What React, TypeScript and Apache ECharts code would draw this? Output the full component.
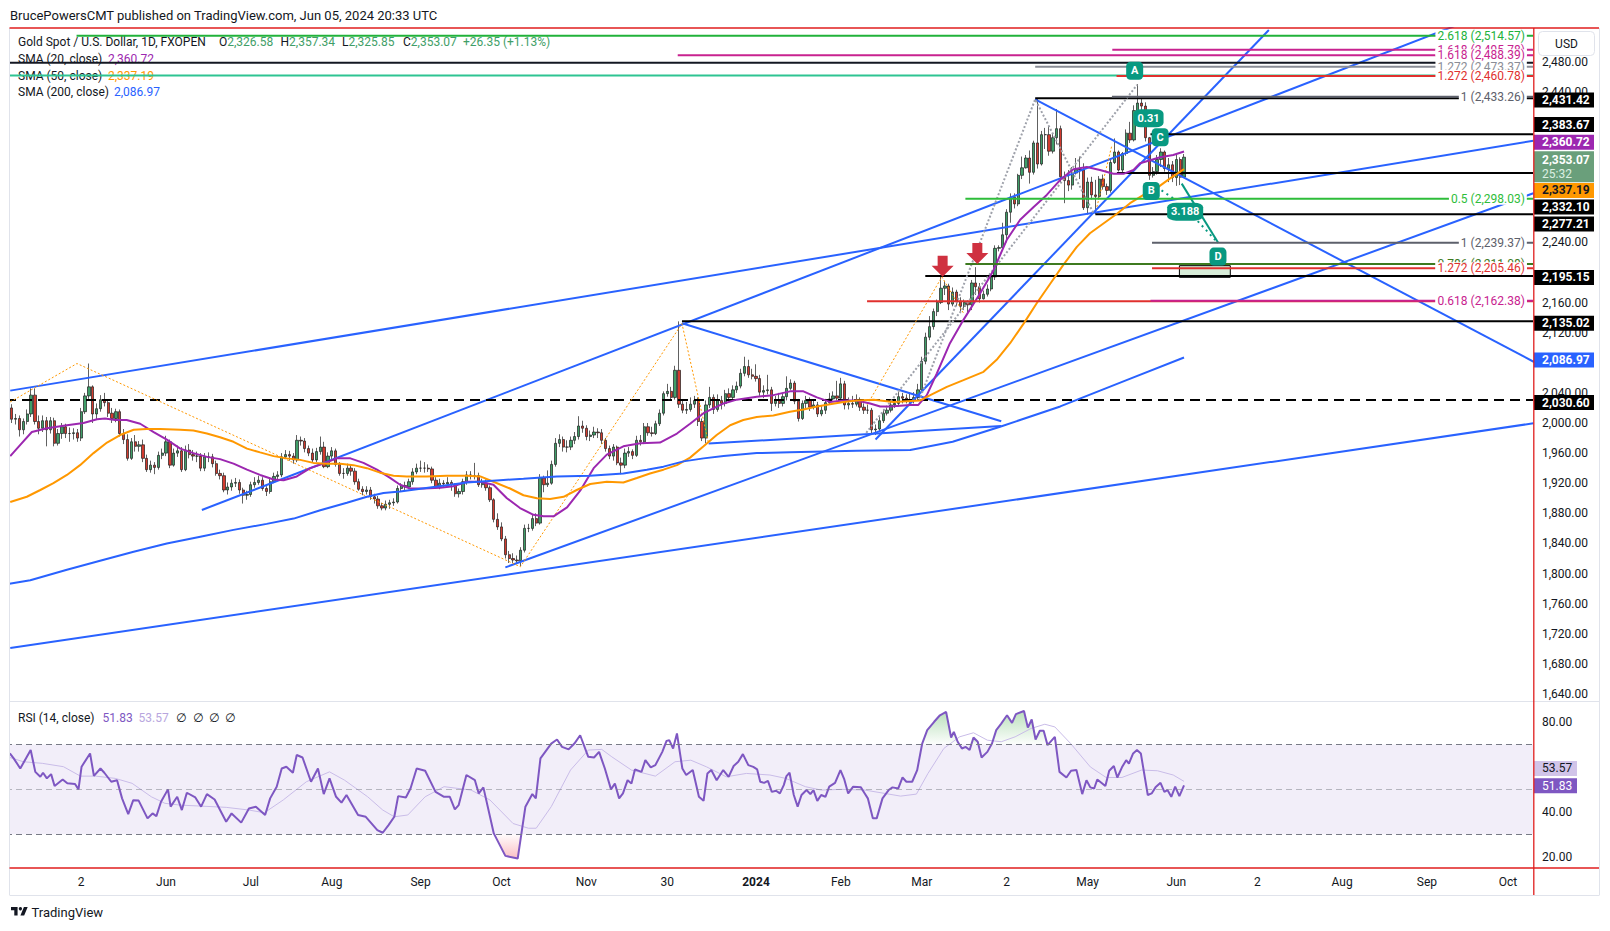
import React, { useEffect, useRef } from "react";
import * as echarts from "echarts";

const FONT = "Roboto, 'Noto Sans', 'DejaVu Sans', sans-serif";
const TEXT = "#131722";
const UP = "#3f9e68";
const DOWN = "#d23a2e";
const BLUE = "#2962ff";

// ---------------- data ----------------
const START_DATE = "2023-04-05";
const SLOT_COUNT = 396; // daily slots incl. empty future space
const FIRST_OPEN = 2021;

const CLOSE = [
  2020, 2005, 2006, 1991, 2002, 2012, 2037, 2002, 1993, 2003,
  1991, 2003, 1973, 1986, 1995, 1986, 1986, 1987, 1980, 2015,
  2036, 2048, 2012, 2019, 2031, 2027, 2013, 2006, 2015, 1986,
  1978, 1953, 1975, 1969, 1971, 1953, 1938, 1944, 1941, 1957,
  1960, 1975, 1944, 1960, 1963, 1938, 1964, 1958, 1956, 1956,
  1940, 1955, 1955, 1946, 1933, 1930, 1911, 1915, 1920, 1921,
  1911, 1904, 1905, 1918, 1921, 1924, 1913, 1909, 1922, 1929,
  1931, 1955, 1958, 1956, 1951, 1977, 1976, 1966, 1960, 1951,
  1962, 1968, 1942, 1956, 1963, 1945, 1933, 1933, 1940, 1936,
  1922, 1912, 1909, 1911, 1902, 1899, 1890, 1887, 1892, 1894,
  1895, 1913, 1917, 1915, 1922, 1935, 1940, 1940, 1940, 1939,
  1924, 1915, 1920, 1919, 1921, 1918, 1906, 1909, 1922, 1931,
  1930, 1930, 1918, 1920, 1914, 1898, 1872, 1862, 1846, 1825,
  1820, 1818, 1817, 1831, 1860, 1860, 1873, 1867, 1927, 1918,
  1920, 1945, 1973, 1978, 1968, 1968, 1977, 1982, 1996, 1993,
  1982, 1984, 1988, 1987, 1977, 1966, 1956, 1968, 1947, 1944,
  1960, 1962, 1957, 1977, 1975, 1995, 1987, 1986, 1999, 2013,
  2039, 2042, 2034, 2070, 2025, 2017, 2018, 2025, 2030, 2002,
  1980, 2024, 2034, 2018, 2030, 2026, 2039, 2034, 2044, 2049,
  2066, 2075, 2064, 2062, 2059, 2041, 2043, 2044, 2026, 2030,
  2026, 2035, 2046, 2053, 2029, 2006, 2026, 2030, 2021, 2024,
  2012, 2017, 2027, 2032, 2036, 2033, 2052, 2024, 2026, 2025,
  2031, 2021, 2017, 2017, 1991, 1992, 2003, 2013, 2017, 2024,
  2026, 2035, 2033, 2031, 2030, 2034, 2044, 2082, 2114, 2128,
  2148, 2160, 2179, 2182, 2158, 2174, 2162, 2155, 2160, 2157,
  2186, 2181, 2165, 2171, 2178, 2194, 2232, 2233, 2250, 2280,
  2300, 2291, 2329, 2339, 2352, 2333, 2372, 2344, 2383, 2383,
  2361, 2379, 2391, 2327, 2322, 2316, 2332, 2337, 2336, 2286,
  2320, 2303, 2301, 2324, 2314, 2309, 2346, 2360, 2336, 2358,
  2385, 2376, 2415, 2425, 2421, 2379, 2329, 2334, 2350, 2360,
  2338, 2343, 2326, 2350, 2326.58, 2353.07,
];

const HIGH = [
  2032, 2025, 2012, 2010, 2006, 2018, 2046, 2046, 2010, 2010,
  2008, 2008, 2007, 1992, 2000, 1999, 1994, 1993, 1992, 2020,
  2040, 2079, 2050, 2026, 2037, 2040, 2030, 2020, 2019, 2018,
  1992, 1985, 1980, 1984, 1976, 1978, 1958, 1950, 1948, 1962,
  1966, 1983, 1978, 1966, 1970, 1968, 1970, 1972, 1964, 1962,
  1960, 1960, 1961, 1959, 1950, 1938, 1934, 1921, 1925, 1927,
  1925, 1914, 1910, 1922, 1928, 1930, 1928, 1916, 1928, 1934,
  1936, 1960, 1964, 1963, 1960, 1984, 1982, 1980, 1970, 1966,
  1967, 1982, 1975, 1961, 1968, 1966, 1948, 1940, 1946, 1945,
  1940, 1926, 1916, 1916, 1915, 1906, 1903, 1894, 1897, 1898,
  1900, 1917, 1920, 1922, 1926, 1940, 1946, 1950, 1948, 1945,
  1942, 1928, 1926, 1924, 1928, 1924, 1920, 1913, 1926, 1936,
  1936, 1947, 1934, 1926, 1925, 1917, 1900, 1880, 1868, 1850,
  1830, 1827, 1824, 1835, 1865, 1866, 1878, 1880, 1932, 1930,
  1937, 1950, 1980, 1985, 1982, 1977, 1982, 1988, 2009, 2003,
  1997, 1990, 1995, 1993, 1992, 1980, 1970, 1972, 1970, 1954,
  1966, 1968, 1965, 1983, 1984, 2000, 2000, 1995, 2003, 2018,
  2042, 2052, 2048, 2076, 2135, 2031, 2028, 2034, 2036, 2034,
  2006, 2030, 2048, 2038, 2038, 2036, 2044, 2046, 2050, 2055,
  2072, 2088, 2084, 2072, 2078, 2064, 2050, 2064, 2048, 2036,
  2040, 2040, 2062, 2058, 2056, 2032, 2030, 2036, 2034, 2030,
  2028, 2023, 2032, 2040, 2042, 2056, 2060, 2056, 2034, 2036,
  2038, 2034, 2026, 2024, 2020, 1998, 2008, 2018, 2022, 2030,
  2032, 2041, 2040, 2038, 2040, 2041, 2052, 2088, 2120, 2142,
  2152, 2164, 2195, 2189, 2185, 2180, 2177, 2167, 2164, 2163,
  2190, 2207, 2186, 2176, 2184, 2198, 2236, 2236, 2266, 2284,
  2305, 2305, 2331, 2354, 2356, 2362, 2375, 2431, 2388, 2392,
  2395, 2385, 2417, 2395, 2334, 2336, 2340, 2352, 2354, 2345,
  2326, 2327, 2323, 2328, 2330, 2318, 2350, 2378, 2362, 2360,
  2390, 2400, 2422, 2450, 2432, 2426, 2380, 2340, 2356, 2365,
  2362, 2352, 2348, 2356, 2353, 2357.34,
];

const LOW = [
  2011, 2000, 1998, 1982, 1985, 1998, 2008, 1998, 1985, 1988,
  1969, 1986, 1969, 1970, 1979, 1980, 1975, 1978, 1975, 1976,
  2012, 2032, 2000, 2005, 2015, 2022, 2008, 2000, 2001, 1982,
  1972, 1950, 1951, 1962, 1962, 1948, 1935, 1934, 1932, 1938,
  1952, 1956, 1940, 1942, 1955, 1935, 1936, 1953, 1950, 1948,
  1936, 1936, 1948, 1941, 1930, 1925, 1908, 1905, 1910, 1915,
  1906, 1893, 1898, 1902, 1914, 1918, 1910, 1903, 1906, 1920,
  1925, 1928, 1952, 1950, 1946, 1948, 1970, 1961, 1956, 1948,
  1948, 1958, 1940, 1940, 1952, 1942, 1930, 1926, 1930, 1930,
  1918, 1910, 1904, 1905, 1898, 1893, 1886, 1884, 1884, 1886,
  1890, 1893, 1909, 1910, 1912, 1918, 1932, 1935, 1934, 1935,
  1920, 1913, 1912, 1914, 1915, 1910, 1902, 1901, 1905, 1918,
  1925, 1925, 1915, 1914, 1910, 1895, 1868, 1858, 1843, 1820,
  1814, 1814, 1813, 1810, 1828, 1855, 1857, 1863, 1865, 1908,
  1915, 1918, 1942, 1968, 1962, 1961, 1964, 1972, 1978, 1987,
  1977, 1976, 1980, 1980, 1972, 1962, 1952, 1950, 1944, 1932,
  1940, 1955, 1952, 1955, 1970, 1972, 1983, 1982, 1984, 1996,
  2010, 2035, 2030, 2031, 2020, 2013, 2012, 2015, 2020, 1996,
  1976, 1973, 2020, 2012, 2015, 2018, 2022, 2030, 2030, 2040,
  2046, 2062, 2060, 2058, 2055, 2036, 2033, 2038, 2016, 2022,
  2020, 2022, 2030, 2044, 2025, 2002, 2004, 2020, 2016, 2018,
  2008, 2009, 2012, 2024, 2030, 2030, 2030, 2018, 2018, 2020,
  2022, 2016, 2012, 2012, 1984, 1984, 1988, 2000, 2010, 2014,
  2020, 2022, 2026, 2026, 2025, 2026, 2030, 2040, 2078, 2110,
  2124, 2142, 2158, 2170, 2150, 2155, 2155, 2146, 2150, 2147,
  2150, 2170, 2160, 2164, 2168, 2175, 2190, 2228, 2230, 2240,
  2266, 2285, 2288, 2324, 2338, 2318, 2330, 2338, 2342, 2364,
  2355, 2358, 2370, 2320, 2292, 2308, 2310, 2330, 2324, 2283,
  2277, 2297, 2278, 2297, 2310, 2303, 2306, 2344, 2334, 2333,
  2355, 2372, 2374, 2408, 2410, 2374, 2323, 2326, 2330, 2340,
  2334, 2320, 2320, 2315, 2316, 2325.85,
];

// moving averages: [bar index, value]
const SMA20 = [
  [0.6, 1956], [3.2, 1971], [6.2, 1988], [10.1, 1993], [15.3, 1997], [19.6, 2000], [23.1, 2005], [25.2, 2006],
  [27.8, 2004], [30.8, 2004], [34.3, 1999], [37.8, 1988], [41.2, 1978], [44.7, 1966], [48.1, 1960], [51.6, 1955],
  [55.0, 1952], [58.5, 1946], [62.0, 1938], [65.4, 1931], [68.9, 1925], [71.5, 1924], [74.9, 1929], [78.4, 1940],
  [81.8, 1946], [85.3, 1953], [88.8, 1953], [92.2, 1947], [95.7, 1938], [99.1, 1927], [101.7, 1918], [104.3, 1913],
  [107.8, 1913], [112.1, 1914], [115.5, 1916], [119.0, 1922], [122.5, 1922], [125.9, 1918], [129.4, 1900],
  [132.8, 1887], [136.3, 1878], [138.9, 1876], [141.5, 1876], [145.0, 1888], [148.4, 1910], [151.9, 1940],
  [155.3, 1958], [159.6, 1969], [164.0, 1973], [169.1, 1974], [173.5, 1986], [176.9, 1999], [180.4, 2013],
  [185.6, 2026], [189.0, 2031], [194.2, 2035], [198.5, 2037], [202.8, 2042], [206.3, 2042], [209.8, 2034],
  [213.2, 2028], [216.7, 2030], [220.1, 2030], [223.6, 2026], [226.2, 2022], [228.8, 2022], [234.0, 2024],
  [236.1, 2024], [238.3, 2037], [240.9, 2066], [244.3, 2106], [247.8, 2137], [252.1, 2172], [255.6, 2203],
  [259.0, 2243], [262.5, 2270], [266.0, 2287], [269.4, 2303], [272.9, 2323], [276.3, 2337], [279.8, 2340],
  [283.2, 2336], [286.7, 2331], [289.3, 2331], [291.9, 2336], [293.6, 2345], [296.2, 2349], [298.8, 2353],
  [302.2, 2356], [305, 2360.72],
];
const SMA50 = [
  [0.6, 1895], [4.9, 1902], [8.4, 1911], [11.8, 1920], [15.3, 1931], [18.7, 1944], [22.2, 1960], [25.7, 1974],
  [29.1, 1984], [32.6, 1991], [36.0, 1992], [39.5, 1992], [44.7, 1991], [48.1, 1990], [51.6, 1986], [55.0, 1981],
  [58.5, 1975], [62.0, 1966], [65.4, 1961], [68.9, 1956], [72.3, 1953], [75.8, 1951], [79.2, 1947], [82.7, 1946],
  [86.2, 1946], [89.6, 1944], [93.1, 1940], [96.5, 1934], [100.0, 1930], [103.4, 1929], [108.6, 1929],
  [113.8, 1930], [119.0, 1930], [122.5, 1929], [125.9, 1922], [130.2, 1913], [133.7, 1904], [137.2, 1900],
  [140.6, 1899], [144.1, 1902], [147.5, 1911], [151.0, 1919], [155.3, 1922], [159.6, 1921], [163.1, 1927],
  [166.5, 1933], [170.0, 1938], [173.5, 1944], [176.9, 1954], [180.4, 1969], [183.8, 1984], [187.3, 1997],
  [190.7, 2004], [194.2, 2008], [198.5, 2010], [202.8, 2015], [206.3, 2018], [209.8, 2022], [213.2, 2025],
  [216.7, 2028], [220.1, 2030], [224.5, 2031], [229.6, 2028], [236.6, 2030], [239.2, 2037], [243.5, 2048],
  [247.8, 2057], [253.0, 2068], [256.4, 2084], [259.9, 2106], [263.4, 2132], [266.8, 2159], [270.3, 2185],
  [273.7, 2210], [277.2, 2234], [280.6, 2252], [284.1, 2265], [287.6, 2278], [291.0, 2292], [294.5, 2303],
  [297.9, 2312], [301.4, 2325], [305, 2337.19],
];
const SMA200 = [
  [0, 1786], [5.8, 1791], [15.3, 1805], [23.9, 1817], [32.6, 1829], [41.2, 1840], [49.9, 1849], [58.5, 1858],
  [67.1, 1866], [74.1, 1873], [81.0, 1884], [87.9, 1894], [93.1, 1902], [97.4, 1907], [101.7, 1909],
  [110.4, 1915], [119.0, 1921], [127.6, 1924], [133.7, 1926], [142.3, 1929], [150.9, 1930], [159.6, 1933],
  [165.7, 1938], [170.0, 1942], [175.2, 1949], [180.4, 1953], [185.6, 1956], [194.2, 1960], [202.8, 1961],
  [211.5, 1962], [220.1, 1963], [234.0, 1964], [245.0, 1975], [257.3, 1995], [272.9, 2022], [290.1, 2057],
  [305, 2086.97],
];

const RSI = [
  [0.5, 66.0], [1.5, 63.8], [3.2, 59.3], [5.9, 67.5], [7.1, 57.8], [8.4, 55.6], [9.1, 57.4], [10.1, 54.9],
  [11.2, 56.8], [12.1, 51.5], [14.2, 54.4], [15.4, 52.7], [17.4, 52.4], [18.3, 50.0], [19.1, 60.1], [21.3, 66.0],
  [22.3, 56.0], [24.0, 59.3], [25.0, 57.4], [26.8, 53.4], [28.3, 54.1], [29.6, 46.0], [31.2, 39.0], [32.5, 45.2],
  [33.9, 45.0], [36.2, 37.1], [37.5, 39.3], [38.5, 38.1], [39.7, 44.5], [41.5, 50.0], [42.2, 42.3], [43.9, 46.7],
  [45.1, 40.8], [46.4, 48.5], [48.6, 46.4], [50.1, 42.3], [51.6, 47.9], [53.6, 45.5], [56.6, 35.6], [58.0, 39.3],
  [60.5, 35.2], [62.5, 41.5], [64.3, 42.3], [66.7, 38.6], [68.0, 46.0], [69.7, 51.2], [71.0, 59.3], [72.2, 60.1],
  [73.9, 57.4], [74.9, 65.3], [76.4, 64.2], [78.6, 53.4], [80.4, 59.3], [81.9, 47.9], [83.4, 54.9], [85.1, 46.7],
  [86.5, 44.1], [87.8, 47.5], [90.8, 38.6], [92.8, 37.8], [95.8, 31.9], [97.2, 30.7], [98.7, 34.1], [100.2, 37.8],
  [101.2, 47.0], [103.2, 46.4], [104.4, 50.4], [106.0, 59.3], [108.2, 58.3], [110.9, 48.9], [113.1, 46.7],
  [114.6, 46.7], [115.9, 41.1], [116.9, 43.0], [118.9, 56.4], [121.1, 54.1], [122.1, 48.2], [123.3, 50.9],
  [126.0, 30.4], [129.0, 20.4], [132.2, 19.2], [134.2, 42.3], [136.0, 47.9], [136.9, 46.0], [138.1, 63.8],
  [140.9, 70.4], [142.4, 72.2], [143.7, 68.9], [145.4, 67.8], [146.9, 70.4], [148.4, 74.1], [150.5, 64.5],
  [152.0, 64.2], [153.3, 66.7], [154.8, 59.3], [156.4, 50.0], [157.4, 52.6], [158.5, 46.0], [159.5, 48.2],
  [160.7, 54.1], [161.7, 52.6], [162.6, 58.9], [164.3, 57.8], [165.3, 63.0], [166.7, 59.8], [167.9, 60.8],
  [169.7, 66.7], [170.8, 71.6], [171.5, 71.9], [172.5, 68.2], [173.5, 74.9], [174.9, 59.3], [175.9, 56.4],
  [177.6, 58.6], [179.2, 46.7], [180.4, 44.9], [181.4, 57.1], [182.4, 58.6], [183.8, 54.1], [185.5, 58.6],
  [186.9, 55.6], [188.2, 60.4], [189.4, 62.3], [190.6, 65.7], [192.0, 60.8], [193.3, 60.0], [194.3, 58.9],
  [195.1, 53.4], [196.1, 52.9], [197.1, 53.8], [198.1, 48.9], [199.2, 49.4], [200.2, 48.2], [201.2, 51.9],
  [201.9, 55.9], [202.7, 57.4], [203.8, 47.5], [204.8, 42.3], [205.8, 47.5], [207.1, 49.7], [208.1, 47.9],
  [208.9, 49.7], [209.9, 44.9], [210.9, 47.5], [212.0, 46.7], [213.0, 51.2], [214.5, 52.9], [215.9, 58.6],
  [216.9, 54.4], [217.9, 48.2], [219.2, 51.2], [221.2, 50.9], [222.2, 48.2], [223.0, 46.0], [224.3, 37.1],
  [225.3, 37.1], [226.8, 46.0], [228.4, 49.7], [229.4, 50.9], [230.9, 50.4], [232.0, 55.3], [233.0, 53.4],
  [234.5, 53.4], [235.8, 58.6], [237.1, 70.4], [238.4, 76.4], [240.2, 80.1], [241.7, 83.0], [243.3, 84.5],
  [244.6, 73.1], [245.3, 75.6], [246.3, 71.2], [247.4, 68.2], [248.4, 68.9], [249.4, 67.5], [250.4, 73.1],
  [251.5, 71.2], [252.5, 64.2], [254.0, 66.7], [255.2, 70.4], [256.3, 76.4], [257.6, 79.3], [259.1, 83.0],
  [260.4, 79.6], [261.4, 83.5], [263.5, 84.9], [264.5, 77.5], [265.5, 81.1], [266.5, 72.2], [267.6, 76.1],
  [268.6, 76.1], [269.6, 69.7], [271.5, 73.4], [272.7, 57.8], [274.5, 55.3], [275.7, 58.3], [277.1, 58.6],
  [278.6, 47.9], [279.7, 54.1], [280.7, 50.9], [281.7, 50.4], [282.5, 54.4], [283.8, 52.6], [284.6, 51.5],
  [285.6, 58.3], [286.8, 60.4], [287.7, 55.3], [288.9, 59.8], [290.0, 63.0], [290.7, 61.5], [291.8, 66.0],
  [292.8, 67.5], [293.8, 66.0], [295.6, 47.5], [296.6, 48.2], [297.6, 50.9], [298.9, 52.9], [299.9, 48.9],
  [300.7, 49.7], [301.7, 46.7], [302.7, 51.2], [303.8, 47.0], [305, 51.83],
];
const RSI_MA = [
  [0.5, 64.2], [4.0, 62.3], [8.9, 61.6], [14.4, 60.1], [18.8, 55.9], [22.8, 55.9], [27.8, 54.9], [32.2, 52.7],
  [37.2, 46.7], [40.7, 43.8], [44.6, 43.0], [49.6, 42.6], [56.6, 42.0], [62.5, 40.8], [66.5, 39.6], [71.4, 45.3],
  [77.4, 53.4], [83.4, 57.8], [87.3, 54.1], [93.3, 46.7], [97.2, 40.8], [100.2, 37.8], [103.7, 38.6],
  [108.2, 46.7], [113.1, 51.2], [120.1, 49.7], [125.0, 45.3], [131.0, 34.8], [135.0, 32.7], [137.0, 32.7],
  [140.9, 42.3], [145.9, 58.6], [150.5, 67.5], [154.0, 67.8], [156.6, 64.5], [161.7, 58.6], [167.9, 55.9],
  [173.0, 62.3], [177.1, 63.0], [181.2, 60.0], [186.3, 55.6], [191.5, 57.1], [197.6, 56.4], [201.7, 54.9],
  [206.8, 51.2], [210.9, 49.7], [216.1, 50.0], [222.2, 49.7], [227.4, 48.2], [231.5, 47.0], [235.6, 47.9],
  [238.6, 57.1], [242.7, 68.2], [246.8, 73.4], [250.4, 75.2], [254.0, 71.9], [257.6, 71.2], [261.2, 73.4],
  [265.3, 77.1], [268.9, 79.0], [271.5, 77.8], [275.6, 70.4], [280.7, 60.0], [284.8, 55.3], [288.9, 55.3],
  [294.0, 58.6], [298.1, 58.3], [302.2, 56.4], [305, 53.57],
];
// stretches of the RSI line beyond the 70 / 30 bands (filled in the reference)
const RSI_OVERBOUGHT = [
  [[237.0, 70], [237.1, 70.4], [238.4, 76.4], [240.2, 80.1], [241.7, 83.0], [243.3, 84.5], [244.6, 73.1], [245.3, 75.6], [246.3, 71.2], [246.7, 70]],
  [[250.0, 70], [250.4, 73.1], [251.5, 71.2], [251.8, 70]],
  [[255.1, 70], [255.2, 70.4], [256.3, 76.4], [257.6, 79.3], [259.1, 83.0], [260.4, 79.6], [261.4, 83.5], [263.5, 84.9], [264.5, 77.5], [265.5, 81.1], [266.5, 72.2], [267.6, 76.1], [268.6, 76.1], [269.5, 70]],
];
const RSI_OVERSOLD = [[126.05, 30], [129.0, 20.4], [132.2, 19.2], [133.1, 30]];

// axis ticks (price ticks hidden under the tag boxes in the reference are left out)
const X_TICKS = [
  ["2023-05-02", "2"], ["2023-06-01", "Jun"], ["2023-07-03", "Jul"], ["2023-08-01", "Aug"],
  ["2023-09-01", "Sep"], ["2023-10-02", "Oct"], ["2023-11-01", "Nov"], ["2023-11-30", "30"],
  ["2024-01-02", "2024"], ["2024-02-01", "Feb"], ["2024-03-01", "Mar"], ["2024-04-02", "2"],
  ["2024-05-01", "May"], ["2024-06-03", "Jun"], ["2024-07-02", "2"], ["2024-08-01", "Aug"],
  ["2024-09-02", "Sep"], ["2024-10-01", "Oct"],
];
const PRICE_TICKS = [1640, 1680, 1720, 1760, 1800, 1840, 1880, 1920, 1960, 2000, 2040, 2120, 2160, 2240, 2440, 2480];
const RSI_TICKS = [20, 40, 80];

// drawings: [x1 bar, price1, x2 bar, price2]
const TRENDLINES = [
  [0.6, 1701.1, 395.6, 1999.6],
  [0.6, 2043.0, 395.6, 2375.0],
  [50.3, 1884.4, 375.8, 2528.6],
  [174.8, 2132.4, 257.6, 2002.4],
  [129.0, 1808.2, 395.6, 2305.2],
  [225.0, 1978.0, 327.0, 2522.0],
  [266.4, 2430.0, 395.8, 2081.0],
  [181.7, 1972.6, 257.6, 1995.9],
];
// black horizontal levels: [price, start bar]
const LEVELS = [
  [2431.42, 266.4], [2383.67, 296.3], [2332.10, 287.6], [2277.21, 282.0], [2195.15, 237.9], [2135.02, 174.8],
];
const DASHED_LEVEL = 2030.6;
const FULL_LINES = [[2478.6, "#131722"], [2461.5, "#2ec492"]];
const FIBS = [
  { p: 2514.57, from: 17.8, label: "2.618 (2,514.57)", color: "#21b23a" },
  { p: 2495.78, from: 286.4, label: "1.618 (2,495.78)", color: "#c8228f" },
  { p: 2488.39, from: 173.7, label: "1.618 (2,488.39)", color: "#c8228f" },
  { p: 2473.37, from: 266.4, label: "1.272 (2,473.37)", color: "#8a8d96" },
  { p: 2460.78, from: 287.5, label: "1.272 (2,460.78)", color: "#e0302e" },
  { p: 2433.26, from: 286.3, label: "1 (2,433.26)", color: "#5d606b" },
  { p: 2298.03, from: 248.3, label: "0.5 (2,298.03)", color: "#2ebd3a" },
  { p: 2239.37, from: 296.7, label: "1 (2,239.37)", color: "#5d606b" },
  { p: 2211.08, from: 248.3, label: "0.786 (2,211.08)", color: "#3d7a1f" },
  { p: 2205.46, from: 296.7, label: "1.272 (2,205.46)", color: "#e0302e" },
  { p: 2161.6, from: 222.8, label: "0.618 (2,162.38)", color: "#e0302e" },
  { p: 2162.38, from: 296.3, label: "0.618 (2,162.38)", color: "#c8228f" },
];
const ORANGE_PATHS = [
  [[0.6, 2028], [17.9, 2079], [132.9, 1809], [174.8, 2132], [181.7, 1973]],
  [[222.8, 2024], [242.2, 2194], [247.8, 2146]],
  [[282.4, 2287], [286.3, 2369]],
];
const GREY_PATHS = [
  [[236.3, 2030], [266.4, 2430], [281.5, 2279]],
  [[222.6, 1987], [292.8, 2449]],
];
const TEAL_SOLID = [[304.4, 2318], [313.9, 2239]];
const TEAL_DOTTED = [
  [[296.6, 2318], [302.3, 2298]],
  [[307.5, 2274], [313.1, 2243]],
];
const PATTERN_TAGS = [
  { text: "A", x: 292.2, p: 2467.9, w: 17 },
  { text: "B", x: 296.5, p: 2308.2, w: 17 },
  { text: "C", x: 298.8, p: 2379.5, w: 17 },
  { text: "D", x: 313.8, p: 2221.0, w: 17 },
  { text: "3.188", x: 305.3, p: 2280.7, w: 36 },
  { text: "0.31", x: 295.8, p: 2404.8, w: 30 },
];
const ARROWS = [[242.4, 2194.3], [251.4, 2211.2]];
const PRZ = [303.8, 2209, 317.0, 2193.5];

const LEGEND_OHLC = [["O", "2,326.58"], ["H", "2,357.34"], ["L", "2,325.85"], ["C", "2,353.07"]];
const LEGEND_CHANGE = "+26.35 (+1.13%)";
const SMA_LEGEND = [["SMA (20, close)", "2,360.72", "#9c27b0"], ["SMA (50, close)", "2,337.19", "#ff9800"], ["SMA (200, close)", "2,086.97", BLUE]];

// ---------------- helpers ----------------
const DATES = (() => {
  const out = [];
  const d = new Date(START_DATE + "T00:00:00Z");
  while (out.length < SLOT_COUNT) {
    const wd = d.getUTCDay();
    if (wd !== 0 && wd !== 6) out.push(d.toISOString().slice(0, 10));
    d.setUTCDate(d.getUTCDate() + 1);
  }
  return out;
})();
const TICK_MAP = new Map(X_TICKS);
const TICK_IDX = new Set(X_TICKS.map((t) => DATES.indexOf(t[0])));
const CANDLES = CLOSE.map((c, i) => [i === 0 ? FIRST_OPEN : CLOSE[i - 1], c, LOW[i], HIGH[i]]);

const RIGHT = SLOT_COUNT - 0.5;
const LABEL_X = SLOT_COUNT - 2.1;
const fmt2 = (v) => Number(v).toLocaleString("en-US", { minimumFractionDigits: 2, maximumFractionDigits: 2 });

const seg = (data, color, width, type = "solid", z = 3, xi = 1, yi = 0) => ({
  type: "line", xAxisIndex: xi, yAxisIndex: yi, data, symbol: "none", silent: true,
  animation: false, z, lineStyle: { color, width, type },
});

// right-hand axis tags: text, display position (price), bg, fg
const AXIS_TAGS = [
  { text: "2,431.42", at: 2429.1, bg: "#000", fg: "#fff" },
  { text: "2,383.67", at: 2396.5, bg: "#000", fg: "#fff" },
  { text: "2,360.72", at: 2372.9, bg: "#9c27b0", fg: "#fff" },
  { text: "2,337.19", at: 2308.9, bg: "#ff9800", fg: "#131722" },
  { text: "2,332.10", at: 2286.9, bg: "#000", fg: "#fff" },
  { text: "2,277.21", at: 2264.3, bg: "#000", fg: "#fff" },
  { text: "2,195.15", at: 2193.3, bg: "#000", fg: "#fff" },
  { text: "2,135.02", at: 2132.4, bg: "#000", fg: "#fff" },
  { text: "2,086.97", at: 2083.7, bg: BLUE, fg: "#fff" },
  { text: "2,030.60", at: 2027.2, bg: "#000", fg: "#fff" },
];

function buildOption() {
  const hidden = { color: "rgba(0,0,0,0)", width: 0 };
  const tagLabel = (t) => ({
    show: true, position: "end", distance: 1, formatter: t.text, backgroundColor: t.bg, color: t.fg,
    fontWeight: "bold", fontSize: 12, fontFamily: FONT, padding: [2, 0, 1, 8], width: 52, lineHeight: 12,
  });
  const series = [];

  series.push({
    type: "candlestick", xAxisIndex: 0, yAxisIndex: 0, data: CANDLES, barWidth: "72%", z: 2,
    itemStyle: { color: UP, color0: DOWN, borderColor: "#1c1c1c", borderColor0: "#1c1c1c", borderWidth: 0.7 },
    markLine: {
      symbol: ["none", "none"], silent: true, animation: false,
      data: [
        ...AXIS_TAGS.map((t) => ({ yAxis: t.at, lineStyle: hidden, label: tagLabel(t) })),
        {
          yAxis: 2340.5, lineStyle: hidden,
          label: {
            show: true, position: "end", distance: 1, formatter: "{a|2,353.07}\n{b|25:32}", backgroundColor: "#6a9f7b",
            padding: [1, 0, 1, 8], width: 52, fontFamily: FONT,
            rich: { a: { color: "#fff", fontWeight: "bold", fontSize: 12, lineHeight: 15, fontFamily: FONT }, b: { color: "#dcefe2", fontSize: 12, lineHeight: 14, fontFamily: FONT } },
          },
        },
      ],
    },
  });

  TRENDLINES.forEach((t) => series.push(seg([[t[0], t[1]], [t[2], t[3]]], BLUE, 2)));
  LEVELS.forEach((l) => series.push(seg([[l[1], l[0]], [RIGHT, l[0]]], "#000", 2)));
  series.push(seg([[-0.5, DASHED_LEVEL], [RIGHT, DASHED_LEVEL]], "#000", 2, [10, 6]));
  FULL_LINES.forEach((l) => series.push(seg([[-0.5, l[0]], [RIGHT, l[0]]], l[1], 2)));
  ORANGE_PATHS.forEach((p) => series.push(seg(p, "#ff9800", 1, [2, 2])));
  GREY_PATHS.forEach((p) => series.push(seg(p, "#9ea1aa", 2, [2, 2])));
  series.push(seg(TEAL_SOLID, "#089981", 2));
  TEAL_DOTTED.forEach((p) => series.push(seg(p, "#089981", 2, [2, 4])));

  FIBS.forEach((f) => {
    const s = seg([[f.from, f.p], [RIGHT, f.p]], f.color, 2, "solid", 4);
    s.markPoint = {
      silent: true, animation: false, symbol: "circle", symbolSize: 0,
      data: [{
        coord: [LABEL_X, f.p],
        label: { show: true, position: "left", distance: 0, formatter: f.label, color: f.color, fontSize: 12, fontFamily: FONT, backgroundColor: "#fff", padding: [0, 2] },
      }],
    };
    series.push(s);
  });

  series.push(seg(SMA20, "#9c27b0", 2, "solid", 3));
  series.push(seg(SMA50, "#ff9800", 2, "solid", 3));
  const s200 = seg(SMA200, BLUE, 2, "solid", 3);
  s200.markArea = {
    silent: true, animation: false,
    data: [[{ coord: [PRZ[0], PRZ[1]], itemStyle: { color: "rgba(190,225,192,0.6)", borderColor: "#000", borderWidth: 1 } }, { coord: [PRZ[2], PRZ[3]] }]],
  };
  s200.markPoint = {
    silent: true, animation: false,
    data: [
      ...PATTERN_TAGS.map((t) => ({
        coord: [t.x, t.p], symbol: "roundRect", symbolSize: [t.w, 18], itemStyle: { color: "#089981" },
        label: { show: true, position: "inside", formatter: t.text, color: "#fff", fontSize: 11, fontWeight: "bold", fontFamily: FONT },
      })),
      ...ARROWS.map((a) => ({
        coord: a, symbol: "path://M6,0H16V10H22L11,21L0,10H6Z", symbolSize: [22, 21], symbolOffset: [0, -10.5],
        symbolKeepAspect: false, itemStyle: { color: "#cf3140" }, label: { show: false },
      })),
    ],
  };
  series.push(s200);

  // ---- RSI pane ----
  RSI_OVERBOUGHT.forEach((p) => series.push({
    type: "line", xAxisIndex: 3, yAxisIndex: 1, data: p, symbol: "none", silent: true, z: 2,
    lineStyle: { width: 0 },
    areaStyle: {
      origin: 70,
      color: new echarts.graphic.LinearGradient(0, 0, 0, 1, [
        { offset: 0, color: "rgba(76,175,80,0.55)" }, { offset: 1, color: "rgba(76,175,80,0.02)" },
      ]),
    },
  }));
  series.push({
    type: "line", xAxisIndex: 3, yAxisIndex: 1, data: RSI_OVERSOLD, symbol: "none", silent: true, z: 2,
    lineStyle: { width: 0 },
    areaStyle: {
      origin: 30,
      color: new echarts.graphic.LinearGradient(0, 0, 0, 1, [
        { offset: 0, color: "rgba(242,54,69,0.02)" }, { offset: 1, color: "rgba(242,54,69,0.45)" },
      ]),
    },
  });
  series.push(seg(RSI_MA, "#c9bce8", 1, "solid", 3, 3, 1));
  const rsi = seg(RSI, "#7e57c2", 2, "solid", 4, 3, 1);
  rsi.markArea = { silent: true, animation: false, itemStyle: { color: "rgba(126,87,194,0.1)" }, data: [[{ yAxis: 30 }, { yAxis: 70 }]] };
  const rsiTag = (text, at, bg, fg) => ({
    yAxis: at, lineStyle: hidden,
    label: { show: true, position: "end", distance: 1, formatter: text, backgroundColor: bg, color: fg, fontSize: 12, fontFamily: FONT, padding: [2, 0, 1, 8], width: 35, lineHeight: 12 },
  });
  rsi.markLine = {
    symbol: ["none", "none"], silent: true, animation: false, label: { show: false },
    data: [
      { yAxis: 70, lineStyle: { color: "#787b86", type: [6, 4], width: 1 } },
      { yAxis: 30, lineStyle: { color: "#787b86", type: [6, 4], width: 1 } },
      { yAxis: 50, lineStyle: { color: "rgba(120,123,134,0.5)", type: [6, 4], width: 1 } },
      rsiTag("53.57", 59.3, "#d1c4e9", TEXT),
      rsiTag("51.83", 51.6, "#7e57c2", "#fff"),
    ],
  };
  series.push(rsi);

  // ---- graphics ----
  const txt = (x, y, text, fill, size = 12, extra = {}) => ({
    type: "text", x, y, z: 1, silent: true,
    style: { text, fill, font: `${size}px ${FONT}`, verticalAlign: "middle", textVerticalAlign: "middle", ...extra },
  });
  const line = (x1, y1, x2, y2, stroke, w = 1, z = 30) => ({ type: "line", z, silent: true, shape: { x1, y1, x2, y2 }, style: { stroke, lineWidth: w } });
  const ohlcX = [219, 280.5, 342, 403];
  const els = [
    { type: "rect", z: 29, silent: true, shape: { x: 0, y: 28, width: 9.5, height: 868 }, style: { fill: "#fff" } },
    txt(10, 15, "BrucePowersCMT published on TradingView.com, Jun 05, 2024 20:33 UTC", TEXT, 13),
    txt(18, 42, "Gold Spot / U.S. Dollar, 1D, FXOPEN", TEXT),
    ...LEGEND_OHLC.map((o, i) => ({
      type: "text", x: ohlcX[i], y: 42, z: 1, silent: true,
      style: { text: `{k|${o[0]}}{v|${o[1]}}`, font: `12px ${FONT}`, verticalAlign: "middle", textVerticalAlign: "middle",
        rich: { k: { fill: TEXT, color: TEXT, fontSize: 12, fontFamily: FONT }, v: { fill: UP, color: UP, fontSize: 12, fontFamily: FONT } } },
    })),
    txt(463, 42, LEGEND_CHANGE, UP),
    ...SMA_LEGEND.flatMap((s, i) => [
      txt(18, 59 + i * 16.7, s[0], TEXT),
      txt(i === 2 ? 114 : 108, 59 + i * 16.7, s[1], s[2]),
    ]),
    txt(18, 717.5, "RSI (14, close)", TEXT),
    txt(102.5, 717.5, "51.83", "#7e57c2"),
    txt(138.5, 717.5, "53.57", "#b8a6de"),
    txt(176, 717.5, "∅", TEXT), txt(193, 717.5, "∅", TEXT), txt(209, 717.5, "∅", TEXT), txt(225, 717.5, "∅", TEXT),
    // frame
    line(9.5, 28, 9.5, 895, "#e0e3eb", 1),
    line(1599.5, 28, 1599.5, 895, "#e0e3eb", 1),
    line(9.5, 895.5, 1599.5, 895.5, "#e0e3eb", 1),
    line(9.5, 701.5, 1533, 701.5, "#e0e3eb", 1),
    line(1533, 701.5, 1599, 701.5, "#e0e3eb", 1),
    line(9.5, 28, 1599, 28, "#e01e1e", 1.6),
    line(1533.8, 28, 1533.8, 895, "#e01e1e", 1.3),
    line(9.5, 868, 1599, 868, "#e01e1e", 1.3),
    { type: "rect", z: 31, silent: true, shape: { x: 1538.5, y: 31.5, width: 56, height: 24, r: 4 }, style: { fill: "#fff", stroke: "#e0e3eb", lineWidth: 1 } },
    { ...txt(1566.5, 43.5, "USD", TEXT, 12, { align: "center", textAlign: "center" }), z: 32 },
    // footer
    { type: "tvlogo", x: 11, y: 905.2, scaleX: 0.47, scaleY: 0.47, z: 1, silent: true, style: { fill: TEXT } },
    { type: "circle", z: 1, silent: true, shape: { cx: 11 + 20 * 0.47, cy: 905.2 + 7.5 * 0.47, r: 3.5 * 0.47 }, style: { fill: TEXT } },
    txt(31.5, 912, "TradingView", TEXT, 13),
  ];

  return {
    animation: false,
    backgroundColor: "#ffffff",
    textStyle: { fontFamily: FONT },
    grid: [
      { left: 6, top: 28, width: 1527, height: 673 },
      { left: 6, top: 702, width: 1527, height: 166 },
    ],
    xAxis: [
      { type: "category", gridIndex: 0, data: DATES, show: false, boundaryGap: true },
      { type: "value", gridIndex: 0, min: -0.5, max: RIGHT, show: false },
      {
        type: "category", gridIndex: 1, data: DATES, boundaryGap: true,
        axisLine: { show: false }, axisTick: { show: false }, splitLine: { show: false },
        axisLabel: {
          interval: (i) => TICK_IDX.has(i), margin: 8, color: TEXT, fontSize: 12, fontFamily: FONT,
          formatter: (v) => { const l = TICK_MAP.get(v) || ""; return l === "2024" ? "{b|2024}" : l; },
          rich: { b: { fontWeight: "bold", fontSize: 12, color: TEXT, fontFamily: FONT } },
        },
      },
      { type: "value", gridIndex: 1, min: -0.5, max: RIGHT, show: false },
    ],
    yAxis: [
      {
        type: "value", gridIndex: 0, position: "right", min: 1630.7, max: 2524.7, scale: true,
        splitLine: { show: false }, axisLine: { show: false }, axisTick: { show: false },
        axisLabel: { customValues: PRICE_TICKS, formatter: fmt2, color: TEXT, fontSize: 12, fontFamily: FONT, margin: 9 },
      },
      {
        type: "value", gridIndex: 1, position: "right", min: 15.0, max: 88.9,
        splitLine: { show: false }, axisLine: { show: false }, axisTick: { show: false },
        axisLabel: { customValues: RSI_TICKS, formatter: (v) => Number(v).toFixed(2), color: TEXT, fontSize: 12, fontFamily: FONT, margin: 9 },
      },
    ],
    series,
    graphic: { elements: els },
  };
}

let logoRegistered = false;
function registerLogo() {
  if (logoRegistered) return;
  echarts.graphic.registerShape("tvlogo", echarts.graphic.extendPath("M14 22H7V11H0V4h14v18zM28 22h-8l7.5-18h8L28 22z", {}));
  logoRegistered = true;
}

export default function App() {
  const ref = useRef(null);
  useEffect(() => {
    registerLogo();
    const chart = echarts.init(ref.current, null, { renderer: "svg" });
    chart.setOption(buildOption());
    return () => chart.dispose();
  }, []);
  return (
    <div style={{ position: "fixed", left: 0, top: 0, width: 1610, height: 931, background: "#fff" }}>
      <div ref={ref} style={{ width: 1610, height: 931 }} />
    </div>
  );
}
